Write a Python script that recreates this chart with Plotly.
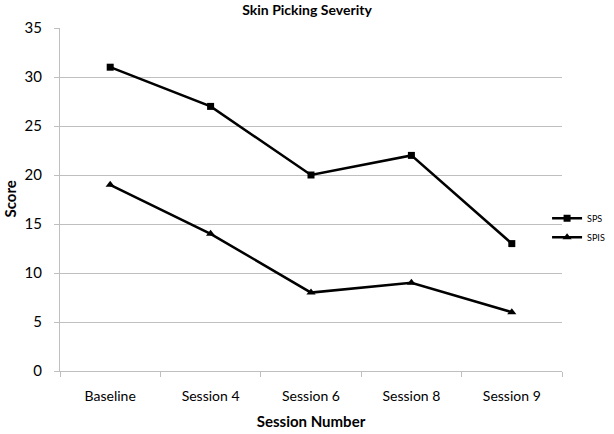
import plotly.graph_objects as go

sessions = ["Baseline", "Session 4", "Session 6", "Session 8", "Session 9"]
sps = [31, 27, 20, 22, 13]
spis = [19, 14, 8, 9, 6]

fig = go.Figure()
fig.add_trace(go.Scatter(x=sessions, y=sps, name="SPS", mode="lines+markers",
                         line=dict(color="black", width=2.5),
                         marker=dict(symbol="square", size=7, color="black")))
fig.add_trace(go.Scatter(x=sessions, y=spis, name="SPIS", mode="lines+markers",
                         line=dict(color="black", width=2.5),
                         marker=dict(symbol="triangle-up", size=8, color="black")))

fig.update_layout(
    width=614, height=434,
    margin=dict(l=60, r=52, t=28, b=63, autoexpand=False),
    paper_bgcolor="white", plot_bgcolor="white",
    font=dict(family="Lato", color="black"),
    title=dict(text="<b>Skin Picking Severity</b>", x=0.5, xanchor="center",
               y=0.977, yanchor="middle", font=dict(size=14)),
    legend=dict(xref="container", yref="container", x=0.891, y=0.475,
                xanchor="left", yanchor="middle",
                font=dict(size=9), bgcolor="rgba(0,0,0,0)", tracegroupgap=0),
    xaxis=dict(type="category", range=[-0.5, 4.5], showgrid=False,
               showline=True, linecolor="#bfbfbf", linewidth=1,
               ticks="outside", tickson="boundaries", ticklen=5, tickcolor="#bfbfbf",
               tickfont=dict(size=14), ticklabelstandoff=12,
               title=dict(text="<b>Session Number</b>", font=dict(size=15), standoff=13)),
    yaxis=dict(range=[0, 35], dtick=5, showgrid=True, gridcolor="#bfbfbf", gridwidth=1,
               showline=True, linecolor="#bfbfbf", linewidth=1,
               ticks="outside", ticklen=5, tickcolor="#bfbfbf",
               tickfont=dict(size=15), zeroline=False, ticklabelstandoff=9),
    annotations=[dict(text="<b>Score</b>", xref="paper", yref="paper", x=0, y=0.5,
                      xanchor="center", yanchor="middle", xshift=-51, textangle=-90,
                      showarrow=False, font=dict(size=15))],
)

# remove the browser's default 8px body margin so the figure fills the window exactly
fig.write_html("out.html", config={"displayModeBar": False},
               post_script="document.body.style.margin='0';")
